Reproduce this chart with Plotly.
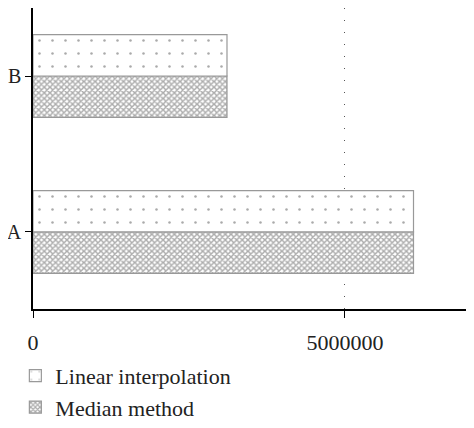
import plotly.graph_objects as go

# data
categories = ["A", "B"]
linear_interp = [6100000, 3110000]
median_method = [6100000, 3110000]
x_ticks = [0, 5000000]
x_tick_labels = ["0", "5000000"]

font_family = "Liberation Serif, DejaVu Serif, serif"

fig = go.Figure()

# first trace ends up at the bottom of each group on a horizontal bar chart
fig.add_trace(go.Bar(
    y=categories,
    x=median_method,
    orientation="h",
    name="Median method",
    marker=dict(
        color="white",
        line=dict(color="#999999", width=1.2),
        pattern=dict(shape="x", size=4, solidity=0.6, fgcolor="#5a5a5a", bgcolor="white"),
    ),
))
fig.add_trace(go.Bar(
    y=categories,
    x=linear_interp,
    orientation="h",
    name="Linear interpolation",
    marker=dict(
        color="white",
        line=dict(color="#999999", width=1.2),
        pattern=dict(shape=".", size=13, solidity=0.03, fgcolor="#555555", bgcolor="white"),
    ),
))

# page has an 8px body margin, so the figure is a bit smaller than the window
fig.update_layout(
    width=466,
    height=412,
    margin=dict(l=25, r=0, t=0, b=111, autoexpand=False),
    barmode="group",
    bargap=0.47,
    bargroupgap=0,
    plot_bgcolor="white",
    paper_bgcolor="white",
    font=dict(family=font_family, size=22, color="#222222"),
    showlegend=True,
    legend=dict(
        traceorder="reversed",
        orientation="v",
        x=-0.04,
        xanchor="left",
        y=-0.152,
        yanchor="top",
        font=dict(family=font_family, size=22, color="#222222"),
        tracegroupgap=0,
    ),
)

fig.update_xaxes(
    range=[0, 7070000],
    tickvals=x_ticks,
    ticktext=x_tick_labels,
    showline=True,
    linecolor="black",
    linewidth=1.5,
    ticks="outside",
    ticklen=7,
    tickcolor="black",
    showgrid=True,
    gridcolor="#555555",
    griddash="1px,11px",
    gridwidth=1,
    zeroline=False,
    ticklabelstandoff=6,
    automargin=False,
)
fig.update_yaxes(
    range=[-0.494, 1.436],
    showline=True,
    linecolor="black",
    linewidth=1.5,
    ticks="outside",
    ticklen=6,
    tickcolor="black",
    tickfont=dict(size=20),
    showgrid=False,
    zeroline=False,
    automargin=False,
)

fig.write_html("out.html")
